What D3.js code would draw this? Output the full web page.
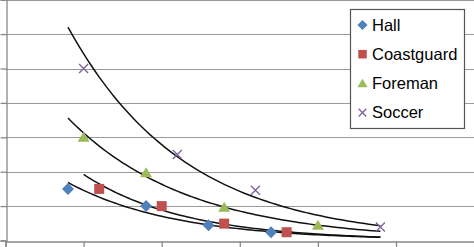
<!DOCTYPE html>
<html>
<head>
<meta charset="utf-8">
<script src="https://cdn.jsdelivr.net/npm/d3@7"></script>
<style>
  body { margin: 0; background: #fff; }
  svg { display: block; }
</style>
</head>
<body>
<div id="chart"></div>
<script>
// series names and readings from the picture
var seriesNames = ["Hall", "Coastguard", "Foreman", "Soccer"];
var hallX = [0.8, 1.8, 2.6, 3.4];
var hallY = [1.5, 1.0, 0.44, 0.24];
var coastguardX = [1.2, 2.0, 2.8, 3.6];
var coastguardY = [1.5, 1.0, 0.49, 0.24];
var foremanX = [1.0, 1.8, 2.8, 4.0];
var foremanY = [3.0, 1.97, 0.97, 0.44];
var soccerX = [1.0, 2.2, 3.2, 4.8];
var soccerY = [5.0, 2.5, 1.46, 0.39];

// trendline spans (x range of each fitted curve)
var trendFrom = [0.8, 1.0, 0.8, 0.8];
var trendTo = [4.8, 4.8, 4.8, 4.8];

var xTicks = [0, 1, 2, 3, 4, 5, 6];
var yTicks = [0, 1, 2, 3, 4, 5, 6, 7];

var W = 474, H = 247;
var colors = ["#4F81BD", "#C0504D", "#9BBB59", "#8064A2"];
var shapes = ["diamond", "square", "triangle", "cross"];

var xs = [hallX, coastguardX, foremanX, soccerX];
var ys = [hallY, coastguardY, foremanY, soccerY];

var x = d3.scaleLinear().domain([0, 7]).range([5.5, 5.5 + 7 * 78.1]);
var y = d3.scaleLinear().domain([0, 7]).range([240.5, 240.5 - 7 * 34.4]);

var svg = d3.select("#chart").append("svg")
  .attr("width", W)
  .attr("height", H);

// horizontal gridlines
svg.selectAll(".grid")
  .data(yTicks.filter(function(d) { return d > 0; }))
  .enter().append("line")
  .attr("x1", x(0)).attr("x2", W)
  .attr("y1", function(d) { return Math.round(y(d)) + 0.5; })
  .attr("y2", function(d) { return Math.round(y(d)) + 0.5; })
  .style("stroke", "#9a9a9a")
  .style("stroke-width", 1.2);

// axes
var xAxis = svg.append("g")
  .attr("transform", "translate(0," + (Math.round(y(0)) + 0.5) + ")")
  .call(d3.axisBottom(x).tickValues(xTicks).tickSize(7).tickFormat(""));
var yAxis = svg.append("g")
  .attr("transform", "translate(" + (Math.round(x(0)) + 0.5) + ",0)")
  .call(d3.axisLeft(y).tickValues(yTicks).tickSize(6).tickFormat(""));
[xAxis, yAxis].forEach(function(a) {
  a.select(".domain").attr("stroke", "#888").attr("stroke-width", 1.3);
  a.selectAll(".tick line").attr("stroke", "#888").attr("stroke-width", 1.3);
});

// exponential trendline fit: y = a * exp(b x)
function expFit(xv, yv) {
  var n = xv.length;
  var ly = yv.map(Math.log);
  var mx = d3.mean(xv), my = d3.mean(ly);
  var sxy = 0, sxx = 0;
  for (var i = 0; i < n; i++) {
    sxy += (xv[i] - mx) * (ly[i] - my);
    sxx += (xv[i] - mx) * (xv[i] - mx);
  }
  var b = sxy / sxx;
  var a = Math.exp(my - b * mx);
  return function(t) { return a * Math.exp(b * t); };
}

var line = d3.line()
  .x(function(d) { return x(d[0]); })
  .y(function(d) { return y(d[1]); })
  .curve(d3.curveLinear);

seriesNames.forEach(function(name, i) {
  var f = expFit(xs[i], ys[i]);
  var pts = d3.range(0, 81).map(function(k) {
    var t = trendFrom[i] + (trendTo[i] - trendFrom[i]) * k / 80;
    return [t, f(t)];
  });
  svg.append("path")
    .attr("d", line(pts))
    .style("fill", "none")
    .style("stroke", "#111")
    .style("stroke-width", 1.5);
});

function marker(g, shape, color, size) {
  var s = size;
  if (shape === "diamond") {
    g.append("path")
      .attr("d", "M0," + (-s * 0.6) + "L" + (s * 0.6) + ",0L0," + (s * 0.6) + "L" + (-s * 0.6) + ",0Z")
      .style("fill", color);
  } else if (shape === "square") {
    g.append("rect")
      .attr("x", -s / 2).attr("y", -s / 2)
      .attr("width", s).attr("height", s)
      .style("fill", color);
  } else if (shape === "triangle") {
    g.append("path")
      .attr("d", "M0," + (-s * 0.55) + "L" + (s * 0.6) + "," + (s * 0.45) + "L" + (-s * 0.6) + "," + (s * 0.45) + "Z")
      .style("fill", color);
  } else {
    var h = s * 0.45;
    g.append("path")
      .attr("d", "M" + (-h) + "," + (-h) + "L" + h + "," + h + "M" + (-h) + "," + h + "L" + h + "," + (-h))
      .style("fill", "none")
      .style("stroke", color)
      .style("stroke-width", 1.4);
  }
}

// data markers
seriesNames.forEach(function(name, i) {
  svg.selectAll(".pt" + i)
    .data(d3.zip(xs[i], ys[i]))
    .enter().append("g")
    .attr("class", "pt" + i)
    .attr("transform", function(d) { return "translate(" + x(d[0]) + "," + y(d[1]) + ")"; })
    .each(function() { marker(d3.select(this), shapes[i], colors[i], 10); });
});

// legend
var legend = svg.append("g").attr("transform", "translate(350.5,9.5)");
legend.append("rect")
  .attr("width", 114).attr("height", 119)
  .style("fill", "#fff")
  .style("stroke", "#555")
  .style("stroke-width", 1.2);
var items = legend.selectAll(".item")
  .data(seriesNames)
  .enter().append("g")
  .attr("transform", function(d, i) { return "translate(0," + (15.5 + i * 29.2) + ")"; });
items.each(function(d, i) {
  var m = d3.select(this).append("g").attr("transform", "translate(12,0)");
  marker(m, shapes[i], colors[i], 8.5);
});
items.append("text")
  .attr("x", 21.5)
  .attr("dy", "0.35em")
  .style("font-family", "'Liberation Sans', Arial, sans-serif")
  .style("font-size", "16.5px")
  .style("fill", "#000")
  .text(function(d) { return d; });
</script>
</body>
</html>
